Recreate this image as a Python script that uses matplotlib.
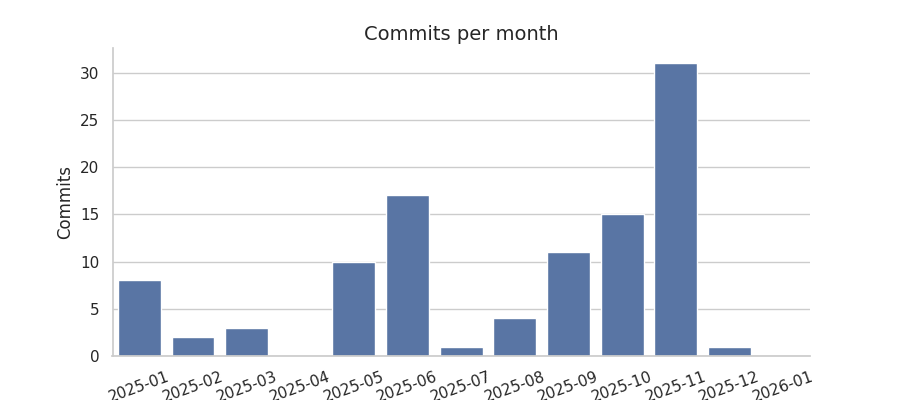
import matplotlib
matplotlib.use("Agg")
import matplotlib.pyplot as plt
import seaborn as sns

months = ["2025-01","2025-02","2025-03","2025-04","2025-05","2025-06","2025-07",
          "2025-08","2025-09","2025-10","2025-11","2025-12","2026-01"]
commits = [8, 2, 3, 0, 10, 17, 1, 4, 11, 15, 31, 1, 0]

sns.set_theme(style="whitegrid")
fig = plt.figure(figsize=(9, 4), dpi=100)
ax = fig.add_axes([0.125, 0.11, 0.775, 0.77])
sns.barplot(x=months, y=commits, color="#4c72b0", ax=ax)
ax.set_title("Commits per month", fontsize=14)
ax.set_ylabel("Commits")
ax.set_xlabel("")
ax.set_ylim(0, 32.6)
plt.setp(ax.get_xticklabels(), rotation=20)
sns.despine(ax=ax)
fig.savefig("out.png")
